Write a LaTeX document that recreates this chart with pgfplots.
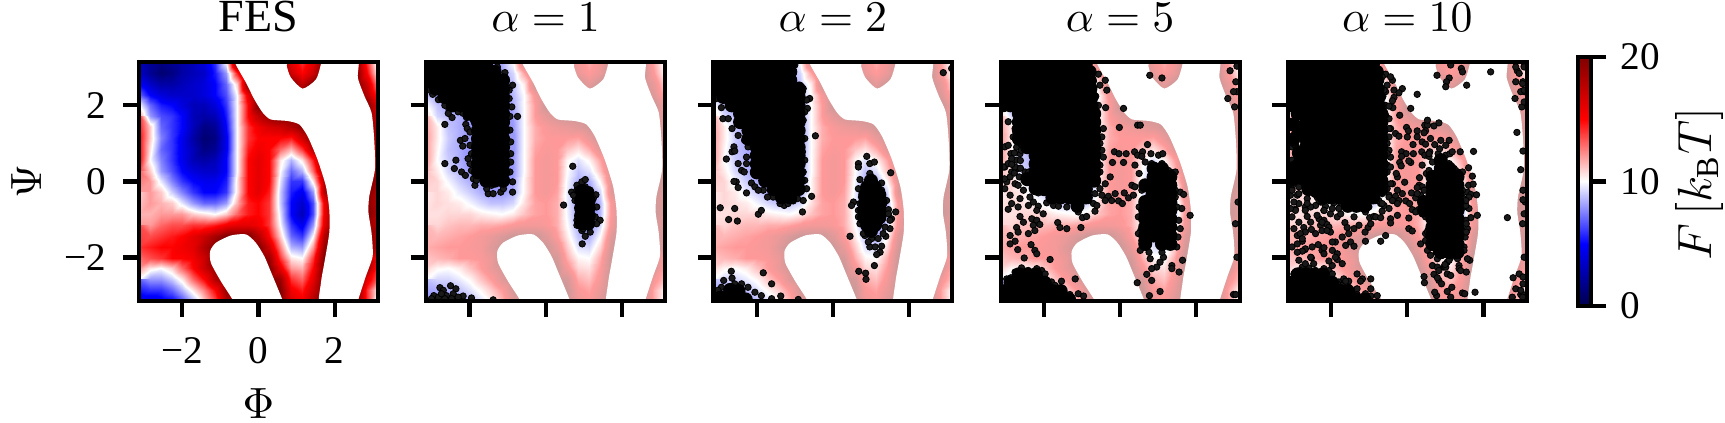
\documentclass[border=0pt]{standalone}
\usepackage{fontspec}
\setmainfont{Liberation Serif}
\usepackage{pgfplots}
\usepackage{pgfplotstable}
\pgfplotsset{compat=1.18}

% free energy on a 23 x 23 grid, top row first, left to right (clipped at 20)
\pgfplotstableread[header=false,row sep=\\]{
3\\2\\1.5\\2\\2.5\\3\\4\\6\\10\\20\\20\\20\\20\\20\\16\\14\\16\\20\\20\\20\\20\\14\\9\\
3.5\\2\\1\\1.5\\2.5\\3\\3.5\\5.5\\8\\14.5\\20\\20\\20\\20\\17\\15\\17\\20\\20\\20\\20\\15\\10\\
5\\3.5\\2.5\\2.5\\3\\3.5\\4\\5\\7\\11\\20\\20\\20\\20\\20\\17.5\\20\\20\\20\\20\\20\\17\\12\\
7\\5\\4\\3.5\\3.5\\3.5\\4\\5\\6.5\\10\\16\\20\\20\\20\\20\\20\\20\\20\\20\\20\\20\\18\\14\\
10\\7\\5.5\\5\\4\\3\\3\\4\\6\\10\\15\\20\\20\\20\\20\\20\\20\\20\\20\\20\\20\\20\\16\\
12\\8\\6.5\\6\\5\\3\\2.5\\3\\5.5\\10\\15\\17.5\\19\\20\\20\\20\\20\\20\\20\\20\\20\\20\\17\\
14\\11\\7\\6\\5\\3\\1.5\\2\\5\\10\\14\\15.5\\16.5\\17\\18\\19.5\\20\\20\\20\\20\\20\\20\\18\\
15\\11\\7.5\\6\\4.5\\2.5\\1\\1.5\\4.5\\10\\14\\15\\15\\15\\14.5\\17\\20\\20\\20\\20\\20\\20\\18\\
15\\10.5\\7\\6\\4.5\\3\\1.5\\2\\4.5\\10\\14.5\\15.5\\15\\13\\11.5\\14\\18\\20\\20\\20\\20\\20\\18\\
15\\10\\7.5\\6\\4.5\\3\\2.5\\3\\5\\10\\15\\16\\15\\10.5\\8.5\\10.5\\14.5\\20\\20\\20\\20\\20\\18\\
14\\11\\8\\6.5\\5\\4\\3.5\\3.5\\5\\10\\15\\16\\15\\10\\7\\8.5\\13\\19\\20\\20\\20\\20\\18.5\\
13\\12\\9.5\\7.5\\6\\5\\4.5\\4.5\\5.5\\10.5\\15\\16\\15\\9.5\\6\\6\\10.5\\18\\20\\20\\20\\20\\19\\
12\\12\\11\\9\\7.5\\6\\5\\5\\6\\10.5\\15\\16\\14.5\\9\\5.5\\4.5\\8\\18\\20\\20\\20\\20\\18\\
11\\12\\11.5\\11\\9.5\\8\\7\\7\\8\\11.5\\14.5\\15\\14\\9\\5\\3.5\\6.5\\15.5\\20\\20\\20\\19.5\\18\\
11.5\\11.5\\12\\12\\12\\11\\10.5\\10\\11\\13\\14.5\\15\\14\\9.5\\5\\3\\6.5\\15.5\\20\\20\\20\\20\\18\\
12\\12\\13\\13.5\\13.5\\14\\14\\14.5\\15.5\\16\\16\\15.5\\14\\10\\6\\4.5\\8\\16\\20\\20\\20\\19\\18\\
13.5\\13.5\\14\\14.5\\15\\16\\17\\18.5\\20\\20\\20\\18\\15\\11\\7\\6\\10\\18\\20\\20\\20\\20\\18\\
14\\14.5\\15\\15\\15.5\\16\\18\\20\\20\\20\\20\\20\\17\\12.5\\8.5\\8\\12\\19\\20\\20\\20\\20\\18\\
14\\13.5\\14\\15\\15\\15.5\\17\\20\\20\\20\\20\\20\\19\\14\\10.5\\10\\14\\20\\20\\20\\20\\18\\15\\
12\\10.5\\10\\11\\13\\15\\17\\19\\20\\20\\20\\20\\20\\16\\12\\11.5\\15\\20\\20\\20\\20\\19\\14\\
10\\8\\8\\9\\10.5\\13\\15\\18\\20\\20\\20\\20\\20\\19\\14\\13\\16\\20\\20\\20\\20\\16\\13\\
7\\6\\6\\7\\8.5\\10.5\\12.5\\15\\19\\20\\20\\20\\20\\20\\15.5\\14.5\\17\\20\\20\\20\\20\\14\\10\\
4\\4\\4.5\\5\\6.5\\8.5\\11\\13.5\\18\\20\\20\\20\\20\\20\\16.5\\15.5\\18\\20\\20\\20\\20\\14\\9\\
}\fes

% regions above the colour range are left white
\pgfplotstableread[row sep=\\]{
x y\\
-0.64 3.30\\ 0.72 3.30\\ 0.74 3.04\\ 0.85 2.73\\ 1.16 2.44\\ 1.51 2.68\\ 1.64 3.08\\ 1.66 3.30\\
2.59 3.30\\ 2.61 2.73\\ 2.78 2.25\\ 2.97 1.81\\ 3.04 1.11\\ 3.06 0.32\\ 2.91 -0.39\\ 2.89 -0.82\\
2.97 -1.35\\ 3.00 -1.96\\ 2.82 -2.49\\ 2.62 -3.11\\ 2.56 -3.37\\ 1.62 -3.37\\ 1.64 -2.67\\ 1.73 -2.14\\
1.86 -1.35\\ 1.86 -0.74\\ 1.77 -0.12\\ 1.55 0.58\\ 1.29 1.19\\ 1.07 1.50\\ 0.76 1.59\\ 0.32 1.63\\
0.11 1.81\\ -0.11 2.16\\ -0.33 2.60\\ -0.60 3.08\\ -0.64 3.30\\
}\whiteA
\pgfplotstableread[row sep=\\]{
x y\\
-0.64 -3.37\\ -0.68 -3.11\\ -0.99 -2.62\\ -1.25 -2.14\\ -1.27 -1.83\\ -1.12 -1.61\\ -0.73 -1.42\\
-0.33 -1.39\\ -0.07 -1.61\\ 0.15 -1.96\\ 0.32 -2.36\\ 0.63 -3.11\\ 0.72 -3.37\\
}\whiteB

% where the samples pile up: the core of alpha=1, then what each larger alpha adds
\pgfplotstableread[row sep=\\]{
x y\\
-3.10 3.10\\ -2.88 3.10\\ -2.66 3.10\\ -2.44 3.10\\ -2.22 3.10\\ -2.00 3.10\\ -1.78 3.10\\ -1.56 3.10\\
-3.10 2.88\\ -2.88 2.88\\ -2.66 2.88\\ -2.44 2.88\\ -2.22 2.88\\ -2.00 2.88\\ -1.78 2.88\\ -1.56 2.88\\ -1.34 2.88\\
-3.10 2.66\\ -2.88 2.66\\ -2.66 2.66\\ -2.44 2.66\\ -2.22 2.66\\ -2.00 2.66\\ -1.78 2.66\\ -1.56 2.66\\ -1.34 2.66\\ -1.12 2.66\\
-2.88 2.44\\ -2.66 2.44\\ -2.44 2.44\\ -2.22 2.44\\ -2.00 2.44\\ -1.78 2.44\\ -1.56 2.44\\ -1.34 2.44\\ -1.12 2.44\\
-2.66 2.22\\ -2.44 2.22\\ -2.22 2.22\\ -2.00 2.22\\ -1.78 2.22\\ -1.56 2.22\\ -1.34 2.22\\ -1.12 2.22\\
-2.44 2.00\\ -2.22 2.00\\ -2.00 2.00\\ -1.78 2.00\\ -1.56 2.00\\ -1.34 2.00\\ -1.12 2.00\\
-2.00 1.78\\ -1.78 1.78\\ -1.56 1.78\\ -1.34 1.78\\ -1.12 1.78\\
-1.78 1.56\\ -1.56 1.56\\ -1.34 1.56\\ -1.12 1.56\\
-1.78 1.34\\ -1.56 1.34\\ -1.34 1.34\\ -1.12 1.34\\
-1.78 1.12\\ -1.56 1.12\\ -1.34 1.12\\ -1.12 1.12\\
-1.78 0.90\\ -1.56 0.90\\ -1.34 0.90\\ -1.12 0.90\\
-1.78 0.68\\ -1.56 0.68\\ -1.34 0.68\\ -1.12 0.68\\
-1.78 0.46\\ -1.56 0.46\\ -1.34 0.46\\ -1.12 0.46\\
-1.78 0.24\\ -1.56 0.24\\ -1.34 0.24\\ -1.12 0.24\\
-1.56 0.02\\ -1.34 0.02\\ -1.12 0.02\\
0.95 -0.25\\ 1.10 -0.30\\ 0.93 -0.50\\ 1.13 -0.50\\ 0.93 -0.70\\ 1.13 -0.70\\ 0.93 -0.90\\ 1.13 -0.90\\ 0.95 -1.10\\ 1.12 -1.10\\
}\coreA
\pgfplotstableread[row sep=\\]{
x y\\
-1.34 3.10\\ -1.12 3.10\\ -1.12 2.88\\ -3.10 2.44\\ -0.90 2.44\\ -2.88 2.22\\ -0.90 2.22\\ -2.66 2.00\\ -0.90 2.00\\
-2.44 1.78\\ -2.22 1.78\\ -0.90 1.78\\ -2.44 1.56\\ -2.22 1.56\\ -2.00 1.56\\ -0.90 1.56\\ -2.22 1.34\\ -2.00 1.34\\ -0.90 1.34\\
-2.22 1.12\\ -2.00 1.12\\ -0.90 1.12\\ -2.00 0.90\\ -0.90 0.90\\ -2.00 0.68\\ -0.90 0.68\\ -2.00 0.46\\ -0.90 0.46\\
-2.00 0.24\\ -0.90 0.24\\ -1.78 0.02\\ -0.90 0.02\\ -1.56 -0.20\\ -1.34 -0.20\\ -1.12 -0.20\\ -0.90 -0.20\\ -1.34 -0.42\\ -1.12 -0.42\\
1.00 0.02\\ 0.90 -0.15\\ 1.10 -0.15\\ 0.85 -0.35\\ 1.05 -0.35\\ 1.22 -0.35\\ 0.85 -0.55\\ 1.05 -0.55\\ 1.25 -0.55\\
0.82 -0.75\\ 1.02 -0.75\\ 1.22 -0.75\\ 0.82 -0.95\\ 1.02 -0.95\\ 1.22 -0.95\\ 0.90 -1.15\\ 1.10 -1.15\\ 1.00 -1.30\\
-2.95 -3.05\\ -2.73 -3.05\\ -2.51 -3.05\\ -2.29 -3.10\\ -2.70 -2.85\\ -2.48 -2.88\\
}\coreB
\pgfplotstableread[row sep=\\]{
x y\\
-0.90 3.10\\ -0.90 2.88\\ -0.90 2.66\\ -0.80 2.88\\ -0.80 2.66\\ -0.78 2.44\\ -0.75 2.22\\ -0.75 2.00\\
-0.68 1.78\\ -0.68 1.56\\ -0.68 1.34\\ -0.68 1.12\\ -0.68 0.90\\ -0.68 0.68\\ -0.68 0.46\\ -0.68 0.24\\ -0.68 0.02\\
-3.10 2.22\\ -3.10 2.00\\ -2.88 2.00\\ -2.66 1.78\\ -2.66 1.56\\ -2.66 1.34\\ -2.44 1.34\\ -2.66 1.12\\ -2.44 1.12\\ -2.44 0.90\\ -2.22 0.90\\
-2.22 0.68\\ -2.22 0.46\\ -2.22 0.24\\ -2.00 0.02\\ -2.00 -0.20\\ -1.78 -0.20\\ -1.56 -0.42\\ -1.78 -0.42\\ -0.90 -0.42\\ -1.12 -0.64\\
-2.44 0.06\\ -2.22 0.02\\ -2.22 -0.18\\
0.88 0.34\\ 1.10 0.34\\ 0.88 0.12\\ 1.10 0.12\\ 1.32 0.12\\ 0.66 -0.10\\ 0.88 -0.10\\ 1.10 -0.10\\ 1.32 -0.10\\ 0.88 -0.32\\ 1.10 -0.32\\ 1.32 -0.32\\
0.66 -0.54\\ 0.88 -0.54\\ 1.10 -0.54\\ 1.32 -0.54\\ 0.66 -0.76\\ 0.88 -0.76\\ 1.10 -0.76\\ 1.32 -0.76\\ 0.66 -0.98\\ 0.88 -0.98\\ 1.10 -0.98\\ 1.32 -0.98\\
0.66 -1.20\\ 0.88 -1.20\\ 1.10 -1.20\\ 1.32 -1.20\\ 0.66 -1.42\\ 0.88 -1.42\\ 1.10 -1.42\\ 1.32 -1.42\\ 0.66 -1.64\\ 1.10 -1.64\\ 1.32 -1.64\\
-3.10 -3.10\\ -2.88 -3.10\\ -2.66 -3.10\\ -2.44 -3.10\\ -2.22 -3.10\\ -2.00 -3.10\\ -1.78 -3.10\\ -1.56 -3.10\\ -1.34 -3.10\\
-3.10 -2.88\\ -2.88 -2.88\\ -2.66 -2.88\\ -2.44 -2.88\\ -2.22 -2.88\\ -2.00 -2.88\\ -1.78 -2.88\\ -1.56 -2.88\\
-2.88 -2.66\\ -2.66 -2.66\\ -2.44 -2.66\\ -2.22 -2.66\\ -1.98 -2.66\\ -2.66 -2.44\\ -2.44 -2.44\\ -2.22 -2.44\\
}\coreC
\pgfplotstableread[row sep=\\]{
x y\\
-2.88 1.78\\ -2.66 0.90\\ -2.66 0.68\\ -2.66 0.46\\ -2.44 0.68\\ -2.44 0.46\\ -2.44 0.24\\ -2.66 0.24\\ -2.22 0.02\\ -2.22 -0.20\\ -2.00 -0.42\\
-3.00 1.50\\ -3.00 1.10\\ -2.85 1.30\\ -2.85 0.75\\ -2.85 0.45\\ -3.00 0.35\\ -3.05 0.05\\ -2.80 0.10\\ -2.60 0.02\\ -2.45 0.00\\ -2.60 -0.20\\ -2.40 -0.25\\ -2.20 -0.42\\
-0.68 -0.20\\ -1.34 -0.64\\ -1.56 -0.64\\
0.66 -0.32\\ 0.44 -0.54\\ 0.44 -0.76\\ 0.88 0.56\\ 0.66 0.12\\ 0.66 -1.64\\ 0.88 -1.64\\ 0.88 -1.86\\ 1.10 -1.86\\ 1.32 -1.86\\
-3.10 -2.66\\ -2.88 -2.44\\ -1.76 -2.88\\ -1.12 -3.10\\
}\coreD

% single samples, alpha=1
\pgfplotstableread[row sep=\\]{
x y\\
-2.97 2.29\\ -2.82 2.15\\ -2.65 2.00\\ -2.54 1.89\\ -2.46 1.68\\ -2.56 1.79\\ -2.30 1.83\\ -2.08 1.68\\ -1.99 1.83\\
-2.65 1.50\\ -2.10 1.50\\ -2.24 1.08\\ -2.18 0.93\\ -2.12 1.13\\ -2.06 1.39\\ -1.99 1.30\\ -2.65 0.47\\ -2.40 0.34\\
-2.36 0.56\\ -2.21 0.25\\ -2.11 0.16\\ -1.99 0.47\\ -1.95 0.29\\ -2.04 0.60\\ -1.90 0.07\\ -1.86 -0.10\\ -1.82 0.03\\
-1.51 -0.32\\ -1.38 -0.32\\ -1.18 -0.28\\ -1.11 -0.19\\ -1.42 -0.10\\ -1.20 -0.01\\ -0.87 -0.01\\ -0.87 -0.28\\
-0.74 1.71\\ -0.94 1.71\\ -0.87 2.53\\ -1.07 2.86\\ -1.27 3.01\\ -0.96 2.18\\ -0.94 1.35\\ -0.92 1.04\\ -0.92 0.73\\
-0.92 0.51\\ -0.94 0.25\\ -1.03 0.03\\ -1.95 0.73\\ -1.99 0.95\\ -1.90 1.61\\ -2.17 1.79\\ -3.04 2.40\\ -0.89 1.96\\
-0.96 2.40\\ -1.11 2.66\\ -1.55 -0.19\\ -1.64 0.12\\ -1.73 3.03\\ -1.51 3.06\\
0.71 0.40\\ 0.47 -0.62\\ 0.96 -1.64\\ 1.04 -1.44\\ 0.95 -1.29\\ 0.82 -1.15\\ 0.82 -1.02\\ 0.90 -0.89\\ 0.77 -0.50\\
0.68 -0.28\\ 0.82 -0.10\\ 0.95 -0.01\\ 1.04 0.05\\ 1.17 -0.23\\ 1.32 -0.35\\ 1.25 -0.45\\ 1.34 -0.67\\ 1.30 -0.93\\
1.43 -1.02\\ 1.34 -1.11\\ 1.17 -1.33\\ 0.99 -1.24\\ 1.12 -1.20\\ 0.90 -0.28\\ 1.04 -0.32\\ 0.90 -0.58\\ 1.04 -0.58\\
1.17 -0.58\\ 0.90 -0.71\\ 1.04 -0.80\\ 1.17 -0.85\\ 1.04 -1.02\\ 1.17 -1.02\\ 0.73 -0.36\\ 0.82 -0.23\\ 1.04 -0.14\\
0.90 -0.41\\ 1.17 -0.36\\ 1.21 -0.71\\ 0.86 -0.76\\
-2.78 -2.79\\ -2.50 -2.74\\ -2.94 -3.00\\ -2.69 -2.86\\ -2.36 -2.82\\ -2.17 -3.01\\ -1.95 -3.06\\ -1.38 -3.11\\
-2.82 -3.04\\ -2.61 -3.00\\ -2.43 -2.95\\ -2.30 -3.04\\ -3.00 -3.08\\ -2.65 -3.08\\ -2.47 -3.08\\ -2.74 -2.95\\
}\samplesA

% single samples, alpha=2
\pgfplotstableread[row sep=\\]{
x y\\
-0.46 1.20\\ -0.61 2.18\\ -0.69 2.14\\ -0.78 2.44\\ -0.87 2.53\\ -1.00 3.06\\ -0.80 2.36\\ -0.67 1.92\\ -0.74 1.83\\ -0.78 1.61\\
-0.74 1.13\\ -0.80 0.78\\ -0.74 0.56\\ -0.78 0.25\\ -0.74 0.03\\ -0.69 -0.19\\ -0.56 -0.39\\ -0.80 -0.80\\ -0.78 -0.50\\ -0.93 -0.45\\
-1.04 -0.51\\ -1.28 -0.63\\ -1.39 -0.58\\ -1.57 -0.41\\ -1.72 -0.41\\ -1.83 -0.23\\ -2.27 -0.30\\ -2.49 -0.16\\ -2.54 -0.01\\ -2.60 0.00\\
-2.14 -0.04\\ -2.40 0.29\\ -2.49 0.47\\ -2.27 0.47\\ -2.80 0.59\\ -2.65 0.78\\ -2.60 0.91\\ -2.49 1.21\\ -2.27 1.30\\ -2.23 1.45\\
-2.65 1.39\\ -2.89 1.65\\ -2.75 1.65\\ -2.93 1.94\\ -3.06 2.18\\ -2.23 0.91\\ -2.05 -0.14\\ -1.96 -0.23\\ -1.18 -0.58\\ -2.33 0.25\\
-2.27 0.64\\ -2.32 1.08\\ -2.58 0.80\\ -2.96 -0.69\\ -2.58 -0.71\\ -2.74 -1.00\\ -2.51 -1.04\\ -1.96 -0.86\\ -1.88 -0.76\\
0.89 0.66\\ 0.67 0.47\\ 0.67 0.38\\ 0.97 0.47\\ 1.09 0.51\\ 1.52 0.23\\ 0.97 0.21\\ 1.28 -0.04\\ 0.71 0.05\\ 0.67 -0.19\\ 0.54 -0.54\\
0.49 -0.63\\ 0.45 -1.44\\ 0.84 -1.42\\ 0.97 -1.72\\ 1.11 -1.72\\ 1.28 -1.70\\ 1.24 -1.86\\ 1.15 -1.92\\ 1.39 -1.44\\ 1.50 -1.24\\
1.09 -2.21\\ 0.68 -2.36\\ 0.86 -2.41\\ 0.87 -2.57\\ 1.65 -0.80\\ 1.46 -0.74\\ 1.54 -0.98\\ 1.50 -1.02\\ 0.75 -0.41\\ 0.67 -0.76\\
0.71 -1.11\\ 0.80 -1.37\\ 1.02 -1.50\\ 1.19 -1.50\\ 1.37 -1.20\\ 1.46 -0.85\\ 1.41 -0.50\\ 1.28 -0.23\\ 1.11 -0.06\\ 0.84 -0.19\\
0.93 0.03\\ 0.71 -0.58\\ 0.67 -0.93\\ 1.32 -1.37\\ 0.93 -1.59\\
-2.67 -2.36\\ -2.87 -2.60\\ -2.65 -2.54\\ -1.83 -2.40\\ -1.61 -2.69\\ -1.37 -3.01\\ -0.91 -3.10\\ -2.93 -2.78\\ -3.02 -2.86\\ -2.40 -2.69\\
-2.23 -2.78\\ -2.05 -2.91\\ -1.88 -3.00\\ -1.61 -3.08\\ -2.75 -2.78\\ -2.58 -2.69\\ 2.90 2.86\\ 3.12 2.97\\
}\samplesB

% single samples, alpha=5
\pgfplotstableread[row sep=\\]{
x y\\
-0.83 2.88\\ -0.70 2.64\\ -0.57 2.82\\ -0.39 2.66\\ -0.53 2.53\\ -0.35 2.40\\ -0.64 2.24\\ -0.57 2.00\\ -0.38 1.94\\ 0.09 1.92\\ -0.61 1.74\\
-0.44 1.39\\ -0.02 1.42\\ -0.48 1.17\\ -0.53 1.00\\ -0.48 0.82\\ 0.46 1.48\\ 0.53 1.48\\ -0.44 0.64\\ -0.53 0.43\\ -0.53 0.25\\ -0.26 0.12\\
-0.39 -0.06\\ -0.53 -0.19\\ -0.66 -0.32\\ -0.70 -0.58\\ -0.66 -0.78\\ -0.83 -0.50\\ -0.99 -0.95\\ -0.88 -0.92\\ -1.03 -1.21\\
-0.48 -0.36\\ -0.31 -0.39\\ -0.13 -0.32\\ 0.11 -0.30\\ -0.04 -0.51\\ 0.06 -0.58\\ 0.22 -0.43\\ 0.35 -0.36\\ 0.31 -0.10\\ 0.39 -0.14\\ -0.22 -0.50\\ -0.39 -0.50\\ -0.61 -0.63\\
-0.15 0.78\\ -0.03 0.73\\ 0.16 0.73\\ -0.20 0.50\\ 0.09 0.50\\ 0.38 0.78\\ 0.46 0.69\\ 0.59 0.78\\ 0.72 0.97\\ 0.57 0.66\\ 0.81 0.73\\ 1.01 0.69\\ 1.12 0.73\\ 0.39 0.43\\
0.78 2.79\\ 1.10 2.72\\ 2.89 2.91\\ 3.07 3.03\\ 3.04 2.62\\ 3.07 2.36\\ 2.98 2.36\\ 2.83 2.18\\ 3.01 1.96\\
-2.89 -0.36\\ -2.94 -0.73\\ -2.85 -0.58\\ -2.68 -0.67\\ -2.63 -0.45\\ -2.41 -0.63\\ -2.28 -0.54\\ -2.15 -0.65\\ -2.19 -0.76\\ -2.02 -0.85\\ -1.93 -0.56\\
-1.75 -0.63\\ -1.62 -0.65\\ -1.40 -0.67\\ -1.18 -0.71\\ -1.10 -0.80\\ -3.03 -0.19\\ -2.76 -0.06\\ -2.68 -0.10\\ -2.54 -0.23\\ -2.15 -0.30\\ -2.37 -0.41\\
-2.63 -0.92\\ -2.54 -1.07\\ -2.32 -0.98\\ -2.19 -1.02\\ -2.11 -1.13\\ -2.28 -1.15\\ -2.24 -1.29\\ -2.41 -1.37\\ -2.72 -1.21\\ -2.68 -1.33\\ -2.89 -1.42\\
-2.76 -1.57\\ -2.89 -1.64\\ -2.69 -1.79\\ -2.34 -1.66\\ -2.24 -1.81\\ -2.19 -1.90\\ -2.52 -2.01\\ -1.84 -2.05\\ -1.64 -1.08\\ -1.58 -1.21\\ -1.40 -1.24\\
-3.03 0.38\\ -2.94 0.47\\ -3.07 0.38\\ -2.85 0.25\\ -2.89 0.12\\ -2.98 -0.01\\ -3.04 0.07\\ -3.03 0.91\\ -2.94 0.95\\ -2.87 0.73\\ -2.81 1.17\\ -2.76 1.39\\
-2.94 1.57\\ -2.85 1.96\\ -3.03 1.92\\ -2.72 0.56\\ -2.68 0.34\\ -2.50 0.25\\ -2.63 0.73\\ -2.76 0.38\\ -2.37 0.16\\
-2.85 0.60\\ -2.78 0.75\\ -2.72 0.90\\ -2.60 0.98\\ -2.85 0.45\\ -2.78 0.22\\ -2.65 0.12\\ -2.52 0.08\\ -2.62 0.55\\ -2.62 0.35\\ -2.60 0.82\\ -2.45 0.90\\ -2.40 0.25\\ -2.30 0.32\\
1.84 -0.89\\ 1.58 -0.28\\ 1.67 -0.34\\ 1.62 -0.71\\ 1.45 -0.41\\ 1.45 0.25\\ 1.32 0.25\\ 1.58 -1.24\\ 1.49 -1.72\\ 1.32 -1.72\\ 1.14 -1.99\\ 1.05 -2.12\\
0.96 -2.25\\ 0.83 -2.29\\ 0.70 -2.44\\ 0.83 -2.60\\ 1.36 -2.21\\ 1.36 -2.29\\ 1.55 -2.38\\ 1.64 -2.07\\ 0.45 -2.66\\ 0.77 -3.00\\ 1.05 -2.89\\ 0.54 -1.29\\
0.50 -0.67\\ 0.50 0.21\\ 0.66 0.51\\ 0.53 -1.81\\ 0.76 -1.86\\ 0.79 -2.03\\ 3.03 -1.11\\ 3.10 -0.54\\ 3.07 -1.99\\ 2.98 -2.97\\ 3.04 -2.97\\ 1.10 -1.86\\
1.45 -0.23\\ 1.49 -0.67\\ 1.54 -1.02\\ 1.52 -1.46\\ 0.57 -0.23\\ 0.48 -0.93\\ 0.48 -1.37\\ 0.57 -1.55\\ 0.83 0.47\\ 1.10 0.47\\ 1.27 0.29\\
-2.76 -2.38\\ -2.59 -2.27\\ -2.41 -2.34\\ -2.19 -2.29\\ -2.06 -2.34\\ -1.97 -2.43\\ -1.80 -2.64\\ -1.71 -2.73\\ -1.49 -2.86\\ -1.32 -2.97\\ -1.10 -2.95\\
-0.96 -3.01\\ -1.18 -2.56\\ -1.54 -2.62\\ -2.98 -2.56\\ -2.87 -2.53\\ -2.54 -2.43\\ -1.62 -2.86\\ -1.40 -3.00\\
}\samplesC

% single samples, alpha=10
\pgfplotstableread[row sep=\\]{
x y\\
-0.44 2.75\\ -0.13 2.44\\ -0.22 2.33\\ -0.35 2.21\\ -0.39 2.12\\ -0.48 1.98\\ -0.57 2.36\\ -0.66 2.75\\ -0.75 2.84\\ 0.26 2.29\\ -0.20 1.74\\ -0.48 1.65\\
0.53 1.61\\ 0.70 1.46\\ 0.83 1.54\\ 1.14 3.06\\ 1.42 2.97\\ 1.45 2.88\\ 1.03 2.62\\ 1.01 2.49\\ 1.56 2.53\\ 2.19 2.88\\
2.85 3.01\\ 3.07 3.01\\ 2.94 2.84\\ 2.85 2.62\\ 3.03 2.57\\ 3.07 2.40\\ 3.07 2.09\\ 2.88 1.29\\ 3.04 0.80\\ 2.98 0.31\\ 3.04 -0.23\\ 3.04 -0.48\\ 3.07 -0.85\\ 2.63 -0.95\\ 1.74 0.79\\
-0.48 1.39\\ -0.31 1.26\\ -0.22 1.19\\ 0.00 1.17\\ 0.03 1.33\\ 0.26 1.33\\ 0.48 1.33\\ 0.44 1.28\\ 0.26 1.17\\ 0.15 0.97\\ 0.39 1.04\\ 0.48 0.98\\ 0.61 1.13\\ 0.88 1.08\\ 1.10 1.08\\
1.01 0.95\\ 0.85 0.86\\ 1.18 0.78\\ 1.39 0.78\\ -0.15 0.66\\ 0.04 0.54\\ -0.16 0.41\\ -0.29 0.21\\ -0.07 -0.02\\ 0.32 0.10\\ 0.26 -0.16\\ 0.26 -0.32\\ -0.26 -0.23\\ -0.48 -0.41\\ -0.57 -0.06\\
-0.39 -0.50\\ -0.26 -0.58\\ 0.13 -0.74\\ 0.29 -0.74\\ 0.22 -0.80\\ 0.04 -0.96\\ -0.44 -0.98\\ -0.44 -1.09\\ 0.04 -1.24\\ 0.13 -1.30\\ -0.26 -0.89\\ -0.48 -0.71\\
1.61 0.36\\ 1.71 0.14\\ 1.61 -0.10\\ 1.73 -0.07\\ 1.82 -0.35\\ 1.62 -0.41\\ 1.54 -0.63\\ 1.67 -0.95\\ 1.55 -1.33\\ 1.39 0.12\\ 1.32 -0.23\\
-2.85 -1.07\\ -2.98 -1.24\\ -2.52 -1.26\\ -2.54 -0.67\\ -2.68 -0.76\\ -2.37 -0.89\\ -2.24 -1.07\\ -2.06 -1.20\\ -2.02 -1.33\\ -2.11 -1.29\\ -1.84 -0.93\\ -1.97 -0.71\\ -1.75 -0.85\\
-1.40 -0.93\\ -1.27 -1.15\\ -1.11 -1.33\\ -1.10 -1.57\\ -0.96 -1.11\\ -0.83 -0.93\\ -0.70 -0.95\\ -0.70 -1.57\\ -0.57 -1.42\\ -1.54 -1.37\\ -1.71 -1.46\\ -1.89 -1.59\\ -1.97 -1.59\\
-1.62 -1.68\\ -1.49 -1.59\\ -1.40 -1.70\\ -1.97 -1.81\\ -1.84 -1.90\\ -1.89 -1.99\\ -1.71 -2.16\\ -1.97 -2.21\\ -2.06 -2.09\\ -2.19 -1.74\\ -2.50 -1.72\\ -2.68 -1.77\\ -2.76 -1.83\\
-3.03 -1.72\\ -2.89 -1.86\\ -2.85 -2.07\\ -2.76 -2.25\\ -2.68 -2.16\\ -2.54 -1.99\\ -2.46 -2.16\\ -2.81 -1.37\\ -2.76 -1.50\\ -2.94 -0.76\\ -3.07 -0.71\\ -3.03 -0.93\\ -2.98 -0.54\\
-2.85 -0.32\\ -2.63 -0.58\\ -2.32 -0.50\\ -2.19 -0.76\\
0.53 -1.33\\ 0.35 -1.64\\ 0.48 -1.55\\ 0.61 -1.94\\ 0.66 -2.21\\ 0.79 -2.25\\ 0.83 -2.34\\ 1.01 -2.25\\ 1.05 -2.43\\ 1.14 -2.47\\ 1.40 -2.34\\ 1.58 -2.03\\ 1.49 -1.81\\ 1.32 -2.03\\
0.44 -2.50\\ 0.79 -2.53\\ 0.90 -2.69\\ 1.17 -2.78\\ 0.72 -2.91\\ 1.45 -2.93\\ 1.51 -2.95\\ 1.14 -3.04\\ 1.78 -2.91\\ 0.99 -2.18\\ 0.57 0.73\\ 0.92 0.60\\ 1.23 0.34\\ 1.54 -0.50\\
1.55 -1.11\\ 1.10 -2.07\\ 0.57 -1.37\\ 0.39 -0.85\\ 0.44 -0.23\\ 0.57 0.29\\
-2.15 -2.47\\ -1.67 -2.56\\ -1.62 -2.62\\ -1.32 -2.43\\ -0.96 -2.56\\ -1.23 -2.62\\ -1.32 -2.82\\ -0.96 -2.82\\ -0.79 -3.00\\ -1.54 -2.78\\ -1.84 -2.69\\ -1.97 -2.60\\ -2.89 -2.51\\
-2.98 -2.43\\ -2.81 -2.34\\ 2.78 -2.53\\ 2.94 -2.43\\ 3.04 -2.51\\ 3.04 -2.69\\ 2.85 -2.82\\ 2.76 -3.04\\ 3.03 -3.04\\ 2.98 -2.86\\
-2.96 1.26\\ -2.94 0.95\\ -2.89 0.86\\ -3.03 0.56\\ -2.98 0.43\\ -3.03 0.21\\ -2.89 -0.06\\ -2.85 -0.14\\ -3.07 -0.36\\ -3.03 -0.23\\
-0.61 2.40\\ -0.57 1.74\\ -0.53 0.73\\ -0.44 0.38\\ -0.44 -0.06\\ -0.75 -0.50\\ -1.01 -0.67\\ -1.36 -0.71\\ -1.80 -0.71\\ -2.24 -0.54\\ -0.66 -0.58\\
}\samplesD

\pgfplotsset{
  seismic/.style={colormap={seismic}{rgb=(0,0,0.3) rgb=(0,0,1) rgb=(1,1,1) rgb=(1,0,0) rgb=(0.5,0,0)}},
  paleseismic/.style={colormap={pale}{rgb=(0.6,0.6,0.72) rgb=(0.6,0.6,1) rgb=(1,1,1) rgb=(1,0.6,0.6) rgb=(0.8,0.6,0.6)}},
  panel/.style={
    scale only axis, width=59.75pt, height=59.75pt,
    xmin=-3.14, xmax=3.14, ymin=-3.14, ymax=3.14,
    xtick={-2,0,2}, ytick={-2,0,2},
    xticklabels={}, yticklabels={},
    tick align=outside, xtick pos=bottom, ytick pos=left,
    major tick length=3.9pt,
    tick style={line width=1.05pt,black},
    axis line style={line width=1.05pt},
    axis on top,
    clip marker paths=true,
    point meta min=0, point meta max=20,
    title style={font=\fontsize{10.95}{12}\selectfont,anchor=base,at={(axis description cs:0.5,1)},yshift=1.5pt},
    tick label style={font=\fontsize{9.8}{10}\selectfont},
    xticklabel style={yshift=-1.6pt},
    yticklabel style={xshift=-0.8pt},
  },
  dots/.style={only marks,mark=*,mark size=0.8pt,mark options={fill=black!90,draw=black,line width=0.2pt}},
  dense/.style={only marks,mark=*,mark size=1.55pt,mark options={fill=black,draw=none}},
}
\newcommand{\surface}{%
  \addplot[surf,shader=interp,mesh/cols=23,point meta=explicit]
    table[x index=0,y index=0,x expr={-3.14+mod(\coordindex,23)*0.28545},y expr={3.14-floor(\coordindex/23)*0.28545},meta index=0]{\fes};
  \addplot[smooth,tension=0.4,fill=white,draw=none,forget plot] table{\whiteA};
  \addplot[smooth,tension=0.4,fill=white,draw=none,forget plot] table{\whiteB};
}

\begin{document}
\begin{tikzpicture}[x=1pt,y=1pt]
\useasboundingbox (0,0) rectangle (431.25,105.75);

\begin{axis}[panel,seismic,at={(34.75pt,30.5pt)},anchor=south west,
  title={FES},title style={font=\fontsize{11.5}{12}\selectfont},
  xticklabels={−2,0,2},yticklabels={−2,0,2},
  xlabel={$\Phi$},ylabel={$\Psi$},
  label style={font=\fontsize{10.95}{12}\selectfont},
  xlabel style={at={(axis description cs:0.5,0)},anchor=base,yshift=-29.5pt},
  ylabel style={at={(axis description cs:0,0.5)},anchor=base,yshift=24.5pt},
]
\surface
\end{axis}

\begin{axis}[panel,paleseismic,at={(106.55pt,30.5pt)},anchor=south west,title={$\alpha=1$}]
\surface
\addplot[dots] table{\samplesA};
\addplot[dense] table{\coreA};
\end{axis}

\begin{axis}[panel,paleseismic,at={(178.35pt,30.5pt)},anchor=south west,title={$\alpha=2$}]
\surface
\addplot[dots] table{\samplesB};
\addplot[dense] table{\coreA};
\addplot[dense] table{\coreB};
\end{axis}

\begin{axis}[panel,paleseismic,at={(250.15pt,30.5pt)},anchor=south west,title={$\alpha=5$}]
\surface
\addplot[dots] table{\samplesC};
\addplot[dense] table{\coreA};
\addplot[dense] table{\coreB};
\addplot[dense] table{\coreC};
\end{axis}

\begin{axis}[panel,paleseismic,at={(321.95pt,30.5pt)},anchor=south west,title={$\alpha=10$}]
\surface
\addplot[dots] table{\samplesC};
\addplot[dots] table{\samplesD};
\addplot[dense] table{\coreA};
\addplot[dense] table{\coreB};
\addplot[dense] table{\coreC};
\addplot[dense] table{\coreD};
\end{axis}

% colour bar
\begin{axis}[seismic,scale only axis,at={(394.5pt,29.25pt)},anchor=south west,
  width=3.2pt,height=62.25pt,
  xmin=0,xmax=1,ymin=0,ymax=20,
  xtick=\empty,ytick={0,10,20},
  ytick pos=right,yticklabel pos=right,tick align=outside,
  major tick length=3.9pt,
  tick style={line width=1.05pt,black},axis line style={line width=1.05pt},
  axis on top,
  point meta min=0,point meta max=20,
  yticklabels={0,10,20},
  tick label style={font=\fontsize{9.8}{10}\selectfont},
  ylabel={$F\,[k_{\mathrm{B}}T]$},
  ylabel style={font=\fontsize{12}{12}\selectfont,at={(axis description cs:1,0.5)},anchor=base,yshift=-30.2pt,xshift=-0.7pt},
]
\addplot[surf,shader=interp,mesh/cols=2,point meta=y] coordinates {
  (0,0) (1,0)

  (0,5) (1,5)

  (0,10) (1,10)

  (0,15) (1,15)

  (0,20) (1,20)
};
\end{axis}
\end{tikzpicture}
\end{document}
